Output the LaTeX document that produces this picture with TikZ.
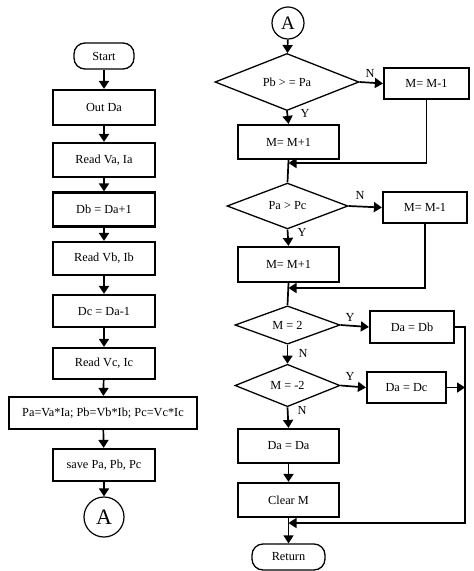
\documentclass[tikz,border=0pt]{standalone}
\usepackage{fontspec}
\setmainfont{Liberation Serif}
\usetikzlibrary{shapes.geometric,arrows.meta}
\tikzset{
	box/.style={draw,line width=2.2pt,inner sep=0pt,minimum width=102pt,minimum height=34pt},
	term/.style={draw,line width=1.3pt,rounded corners=11pt,inner sep=0pt,minimum width=60pt,minimum height=26pt},
	conn/.style={draw,circle,line width=1.2pt,inner sep=0pt},
	test/.style={draw,diamond,line width=1.3pt,inner sep=0pt},
	flow/.style={line width=1.7pt,->},
	lab/.style={inner sep=0pt}
}
\begin{document}
\begin{tikzpicture}[x=1pt,y=-1pt,>={Triangle[length=8pt,width=10pt]},font=\fontsize{12.3}{14}\selectfont]
	\useasboundingbox (0,0) rectangle (474,571);
	% left column
	\node[term] (start) at (104,56) {Start};
	\node[box,minimum height=35pt] (outda) at (104,107.5) {Out Da};
	\node[box] (reada) at (104,160) {Read Va, Ia};
	\node[box] (db) at (104,209.5) {Db = Da+1};
	\node[box,minimum height=33pt] (readb) at (104,258.5) {Read Vb, Ib};
	\node[box,minimum height=32pt] (dc) at (104,311) {Dc = Da-1};
	\node[box,minimum height=31pt] (readc) at (104,363.5) {Read Vc, Ic};
	\node[box,minimum width=188pt,minimum height=32pt] (pow) at (103,413) {Pa=Va*Ia; Pb=Vb*Ib; Pc=Vc*Ic};
	\node[box,minimum height=32pt] (save) at (104,465) {save Pa, Pb, Pc};
	\node[conn,minimum size=40pt,font=\fontsize{22}{24}\selectfont] (aout) at (104,517) {A};
	\foreach \a/\b in {start/outda,outda/reada,reada/db,db/readb,readb/dc,dc/readc,readc/pow,pow/save,save/aout}
		\draw[flow] (\a) -- (\b);
	% right column
	\node[conn,minimum size=32pt,font=\fontsize{19}{21}\selectfont] (ain) at (288,23) {A};
	\node[test,minimum width=144pt,minimum height=39pt] (pbpa) at (287,82) {Pb > = Pa};
	\node[box,minimum width=85pt,minimum height=31pt] (dec1) at (426.5,83.5) {M= M-1};
	\node[box,minimum width=101pt] (inc1) at (288.5,142) {M= M+1};
	\node[test,minimum width=121pt,minimum height=42pt] (papc) at (287.5,206) {Pa > Pc};
	\node[box,minimum width=84pt,minimum height=31pt] (dec2) at (425,207.5) {M= M-1};
	\node[box,minimum width=101pt,minimum height=35pt] (inc2) at (288.5,264.5) {M= M+1};
	\node[test,minimum width=105pt,minimum height=36pt] (mtwo) at (287.5,325) {M = 2};
	\node[box,minimum width=84pt,minimum height=32pt] (dadb) at (412,327) {Da = Db};
	\node[test,minimum width=105pt,minimum height=35pt] (mmtwo) at (287.5,385.5) {M = -2};
	\node[box,minimum width=79pt,minimum height=31pt] (dadc) at (406.5,387.5) {Da = Dc};
	\node[box,minimum width=101pt] (dada) at (288.5,446) {Da = Da};
	\node[box,minimum width=101pt] (clear) at (288.5,500) {Clear M};
	\node[term,minimum width=73pt] (ret) at (288.5,557) {Return};
	\coordinate (j1) at (288.5,163);
	\coordinate (j2) at (288.5,288);
	\coordinate (j3) at (288.5,523);
	\coordinate (rc) at (465,327);
	\coordinate (rb) at (465,523);
	\draw[flow] (ain) -- (pbpa);
	\draw[flow] (pbpa.east) -- (dec1.west);
	\draw[flow] (pbpa.south) -- (inc1.north);
	\draw[line width=1.7pt] (inc1.south) -- (papc.north);
	\draw[flow] (dec1.south) |- (j1);
	\draw[flow] (papc.east) -- (dec2.west);
	\draw[flow] (papc.south) -- (inc2.north);
	\draw[line width=1.7pt] (inc2.south) -- (mtwo.north);
	\draw[flow] (dec2.south) |- (j2);
	\draw[flow] (mtwo.east) -- (dadb.west);
	\draw[flow] (mtwo.south) -- (mmtwo.north);
	\draw[flow] (mmtwo.east) -- (dadc.west);
	\draw[flow] (mmtwo.south) -- (dada.north);
	\draw[flow] (dada) -- (clear);
	\draw[flow] (clear) -- (ret);
	\draw[flow] (dadb.east) -- (rc) -- (rb) -- (j3);
	\draw[flow] (dadc.east) -- (dadc.east -| rc);
	% branch labels
	\node[lab] (n1) at (370,73) {N};
	\node[lab] (y1) at (305,113) {Y};
	\node[lab] (n2) at (360,195) {N};
	\node[lab] (y2) at (302,232) {Y};
	\node[lab] (y3) at (350,317) {Y};
	\node[lab] (n3) at (303,353) {N};
	\node[lab] (y4) at (350,376) {Y};
	\node[lab] (n4) at (302,410) {N};
\end{tikzpicture}
\end{document}
